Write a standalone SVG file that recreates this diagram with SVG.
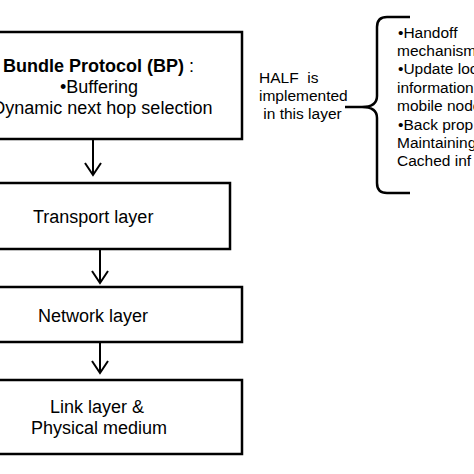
<svg xmlns="http://www.w3.org/2000/svg" width="474" height="474" viewBox="0 0 474 474">
<defs>
<style>
.box{fill:#fff;stroke:#000;stroke-width:2.5}
.t{font-family:"Liberation Sans",Arial,sans-serif;font-size:18px;fill:#000}
.s{font-family:"Liberation Sans",Arial,sans-serif;font-size:15.5px;fill:#000}
.b{font-weight:bold}
.ln{fill:none;stroke:#000;stroke-width:2}
</style>
<marker id="ah" markerUnits="userSpaceOnUse" viewBox="-14 -10 16 20" refX="0" refY="0" markerWidth="16" markerHeight="20" orient="auto" overflow="visible">
<path d="M-12,-8 L0,0 L-12,8" fill="none" stroke="#000" stroke-width="2"/>
</marker>
</defs>
<rect width="474" height="474" fill="#fff"/>
<g id="bp">
<rect class="box" x="-44" y="32" width="286" height="107"/>
<text class="t" x="3" y="72"><tspan class="b">Bundle Protocol (BP)</tspan> :</text>
<text class="t" x="60" y="93">•Buffering</text>
<text class="t" x="-14" y="114">•Dynamic next hop selection</text>
</g>
<g id="transport">
<rect class="box" x="-32" y="183" width="262" height="66"/>
<text class="t" x="33" y="223">Transport layer</text>
</g>
<g id="network">
<rect class="box" x="-44" y="287" width="286" height="55"/>
<text class="t" x="38" y="322">Network layer</text>
</g>
<g id="link">
<rect class="box" x="-44" y="380" width="286" height="74"/>
<text class="t" x="50" y="413">Link layer &amp;</text>
<text class="t" x="31" y="434">Physical medium</text>
</g>
<g id="half">
<text class="s" x="259" y="83" xml:space="preserve">HALF  is</text>
<text class="s" x="259" y="101">implemented</text>
<text class="s" x="259" y="119" xml:space="preserve"> in this layer</text>
</g>
<g id="features">
<text class="s" x="398" y="38">•Handoff</text>
<text class="s" x="397" y="56">mechanism</text>
<text class="s" x="398" y="74">•Update loc</text>
<text class="s" x="397" y="93">information</text>
<text class="s" x="397" y="111">mobile node</text>
<text class="s" x="398" y="130">•Back prop</text>
<text class="s" x="397" y="148">Maintaining</text>
<text class="s" x="397" y="166">Cached inf</text>
</g>
<g id="connectors">
<line class="ln" x1="93" y1="140" x2="93" y2="175" marker-end="url(#ah)"/>
<line class="ln" x1="100" y1="250" x2="100" y2="283" marker-end="url(#ah)"/>
<line class="ln" x1="100" y1="343" x2="100" y2="373" marker-end="url(#ah)"/>
<path d="M410,17 L387,17 Q377,17 377,27 L377,96 Q377,107 362,107 L345,107 M362,107 Q377,107 377,118 L377,183 Q377,193 387,193 L410,193" fill="none" stroke="#000" stroke-width="2.5"/>
</g>
</svg>
